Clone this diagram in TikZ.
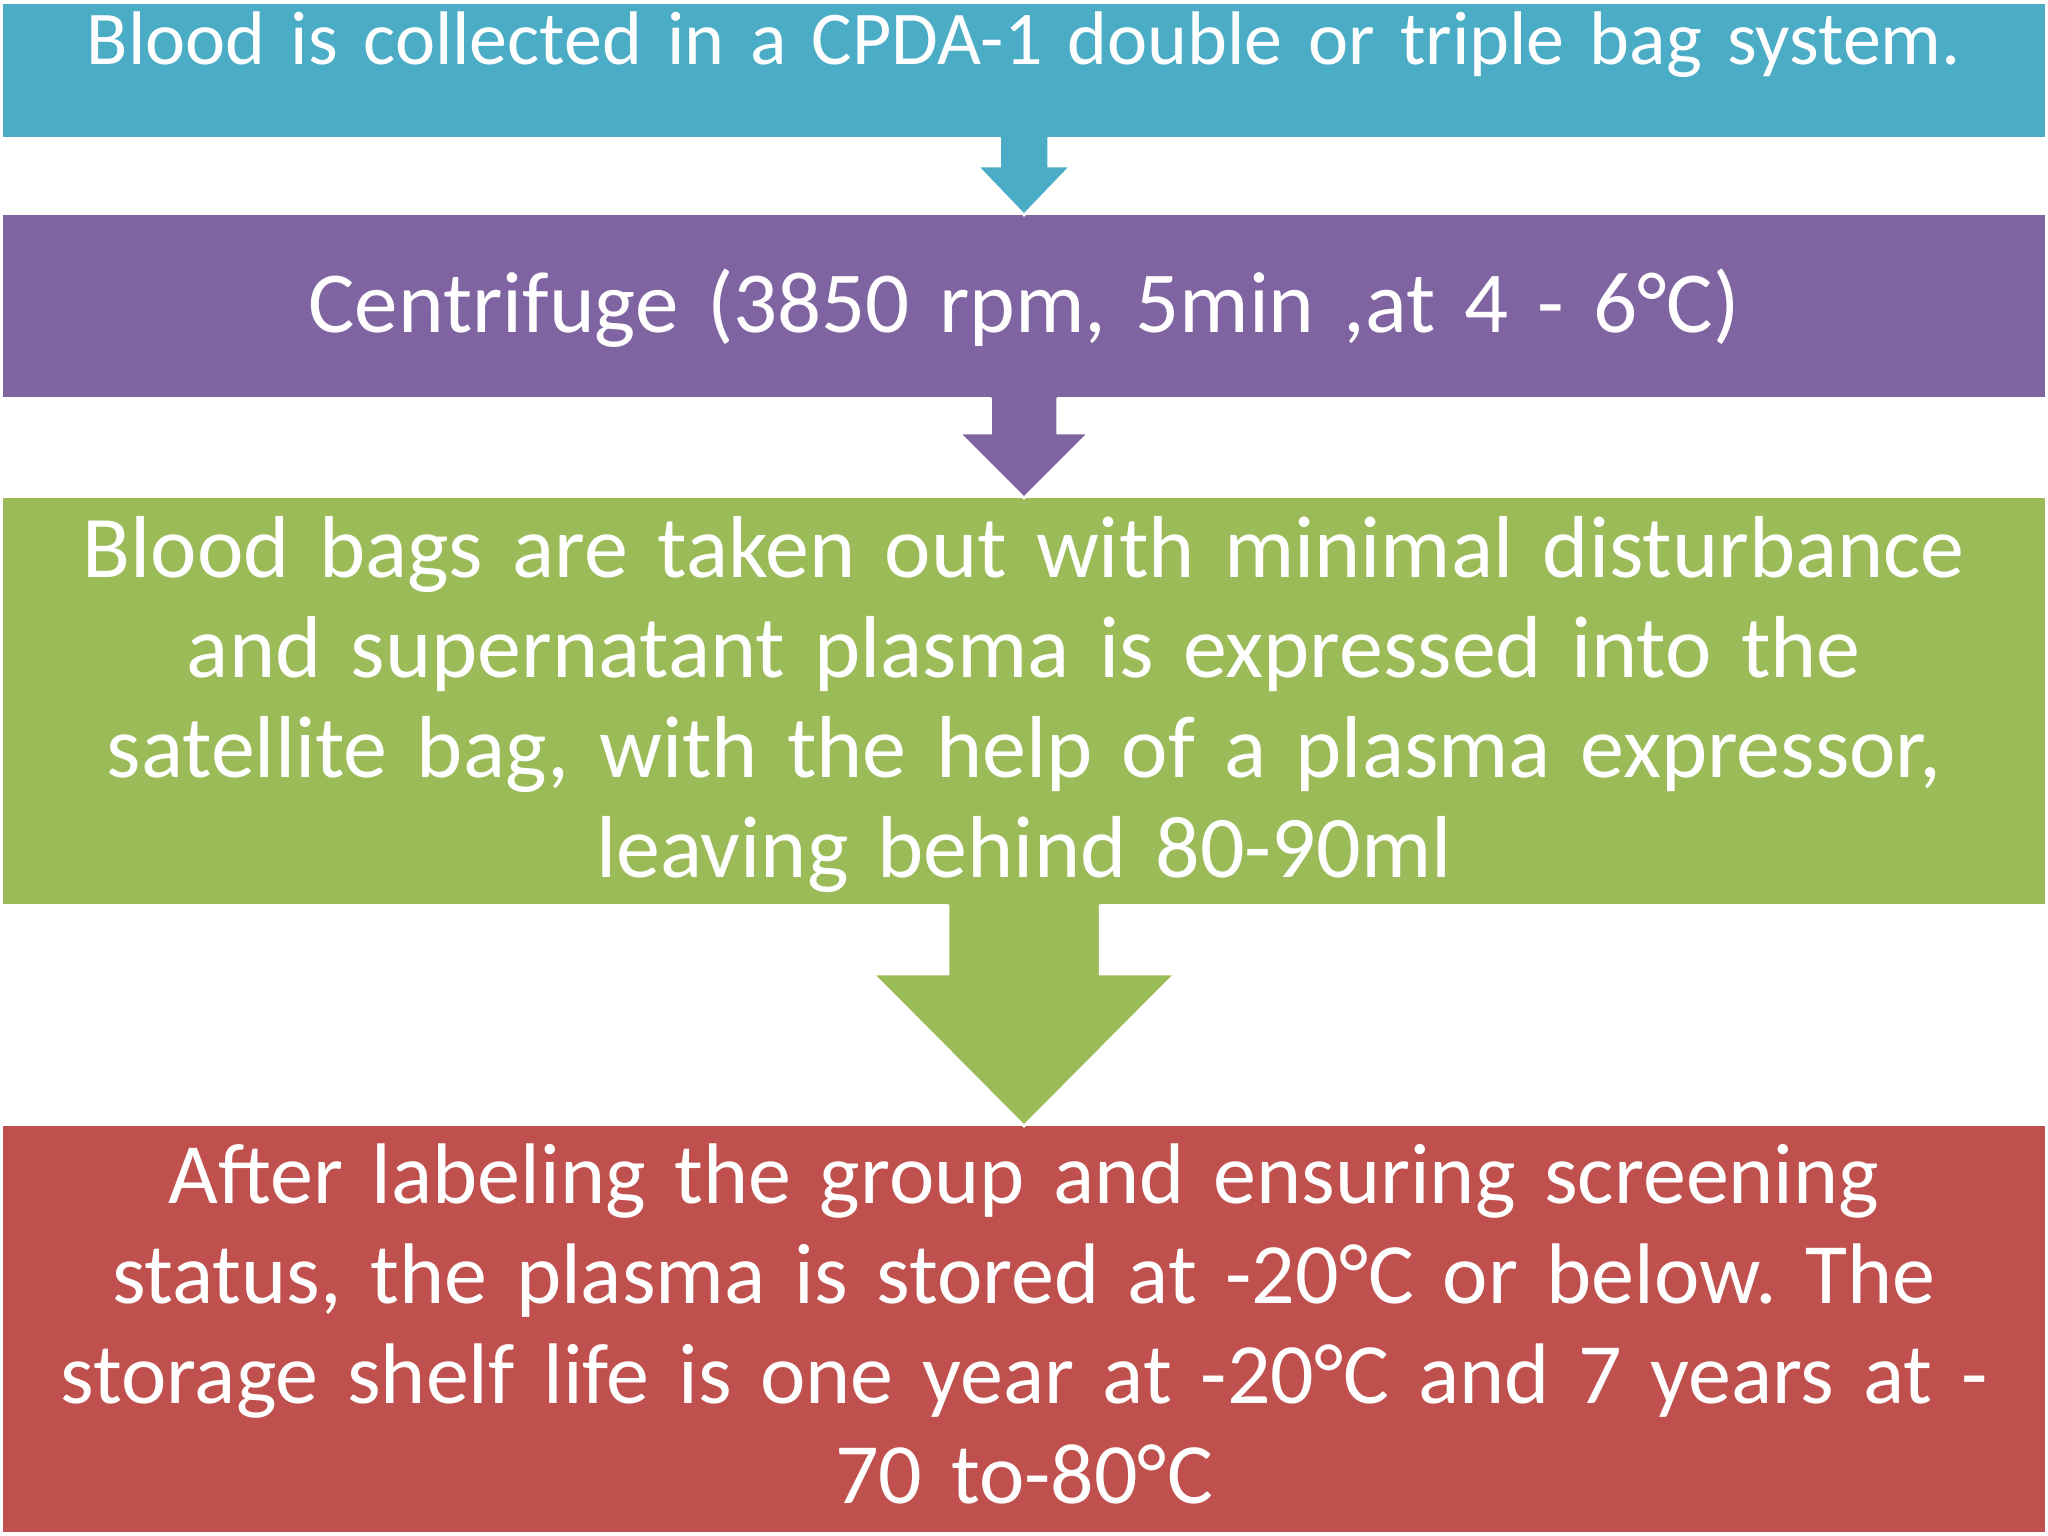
\documentclass[tikz,border=0pt]{standalone}
\usepackage{fontspec}
\setmainfont{Carlito}
\usetikzlibrary{calc}
\definecolor{cblue}{HTML}{4BACC6}
\definecolor{cpurple}{HTML}{8064A2}
\definecolor{cgreen}{HTML}{9BBB59}
\definecolor{cred}{HTML}{C0504D}
\frenchspacing
\begin{document}
\begin{tikzpicture}[x=1pt,y=-1pt,
  box/.style={rectangle, inner sep=0pt, outer sep=0pt, minimum width=2042pt},
  txt/.style={text=white, align=center, anchor=base, inner sep=0pt, text width=2040pt},
  arrowedge/.style={draw=white, line width=2.5pt, line join=miter}]
\useasboundingbox[fill=white] (0,0) rectangle (2048,1536);
% boxes
\node[box, fill=cblue, minimum height=133pt] (b1) at (1024,70.5) {};
\node[box, fill=cpurple, minimum height=182pt] (b2) at (1024,306) {};
\node[box, fill=cgreen, minimum height=406pt] (b3) at (1024,701) {};
\node[box, fill=cred, minimum height=406pt] (b4) at (1024,1329) {};
% arrow 1
\fill[cblue] ($(b1.south)+(-24.5,0)$) -- ($(b1.south)+(-24.5,29)$) -- ($(b1.south)+(-47,29)$) -- (b2.north) -- ($(b1.south)+(47,29)$) -- ($(b1.south)+(24.5,29)$) -- ($(b1.south)+(24.5,0)$) -- cycle;
\draw[arrowedge] ($(b1.south)+(-24.5,0.5)$) -- ($(b1.south)+(-24.5,29)$) -- ($(b1.south)+(-47,29)$) -- (b2.north) -- ($(b1.south)+(47,29)$) -- ($(b1.south)+(24.5,29)$) -- ($(b1.south)+(24.5,0.5)$);
% arrow 2
\fill[cpurple] ($(b2.south)+(-33.5,0)$) -- ($(b2.south)+(-33.5,36)$) -- ($(b2.south)+(-65,36)$) -- (b3.north) -- ($(b2.south)+(65,36)$) -- ($(b2.south)+(33.5,36)$) -- ($(b2.south)+(33.5,0)$) -- cycle;
\draw[arrowedge] ($(b2.south)+(-33.5,0.5)$) -- ($(b2.south)+(-33.5,36)$) -- ($(b2.south)+(-65,36)$) -- (b3.north) -- ($(b2.south)+(65,36)$) -- ($(b2.south)+(33.5,36)$) -- ($(b2.south)+(33.5,0.5)$);
% arrow 3
\fill[cgreen] ($(b3.south)+(-76,0)$) -- ($(b3.south)+(-76,70)$) -- ($(b3.south)+(-151,70)$) -- (b4.north) -- ($(b3.south)+(151,70)$) -- ($(b3.south)+(76,70)$) -- ($(b3.south)+(76,0)$) -- cycle;
\draw[arrowedge] ($(b3.south)+(-76,0.5)$) -- ($(b3.south)+(-76,70)$) -- ($(b3.south)+(-151,70)$) -- (b4.north) -- ($(b3.south)+(151,70)$) -- ($(b3.south)+(76,70)$) -- ($(b3.south)+(76,0.5)$);
% texts
\node[txt, font=\fontsize{76}{100}\selectfont] (t1) at (1024,65) {Blood is collected in a CPDA-1 double or triple bag system.};
\node[txt, font=\fontsize{87}{100}\selectfont] (t2) at (1024,332) {Centrifuge (3850 rpm, 5min ,at 4 - 6°C)};
\node[txt, font=\fontsize{88}{100}\selectfont] (t3) at (1024,577) {Blood bags are taken out with minimal disturbance\\ and supernatant plasma is expressed into the\\ satellite bag, with the help of a plasma expressor,\\ leaving behind 80-90ml};
\node[txt, font=\fontsize{86}{100}\selectfont] (t4) at (1024,1203) {After labeling the group and ensuring screening\\ status, the plasma is stored at -20°C or below. The\\ storage shelf life is one year at -20°C and 7 years at -\\ 70 to-80°C};
\end{tikzpicture}
\end{document}
